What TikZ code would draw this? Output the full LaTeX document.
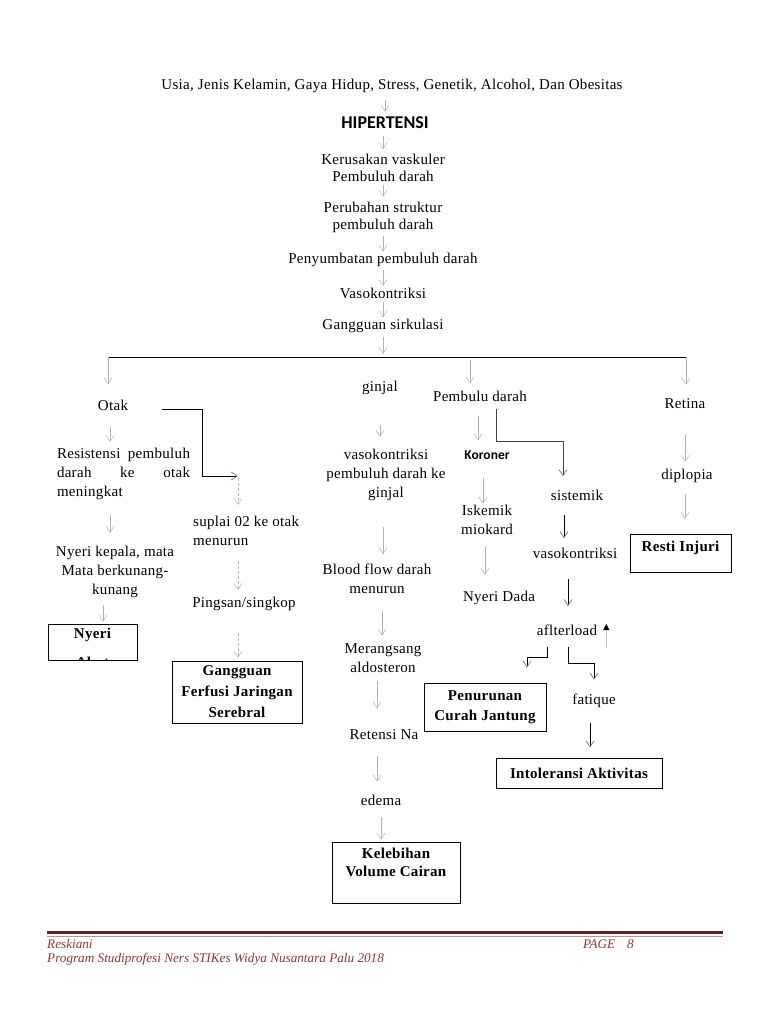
\documentclass[tikz,border=0pt]{standalone}
\usepackage{fontspec}
\setmainfont{Liberation Serif}[LetterSpace=2]
\newfontfamily\calfont{Carlito}
\newfontfamily\footfont{Liberation Serif}
\usetikzlibrary{arrows.meta,calc,positioning}
\definecolor{footred}{HTML}{943634}
\definecolor{footdark}{HTML}{622423}

\begin{document}
\begin{tikzpicture}[
    x=1pt, y=-1pt,
    txt/.style={inner sep=1pt, align=center, font=\fontsize{15}{19}\selectfont},
    box/.style={draw, line width=0.9pt, inner sep=2pt, font=\fontsize{15}{20}\selectfont\bfseries},
    arr/.style={gray!60, line width=0.5pt, -{Straight Barb[length=6pt,width=8pt]}},
    darr/.style={black, line width=0.8pt, -{Straight Barb[length=6pt,width=8pt,color=gray]}},
    dasharr/.style={arr, dash pattern=on 3pt off 2pt},
    uparr/.style={gray!45, line width=0.8pt, -{Triangle[length=6pt,width=6pt,color=black]}},
    sh/.style 2 args={shorten <=#1pt, shorten >=#2pt}
]
\fill[white] (0,0) rectangle (768,1024);
\useasboundingbox (0,0) rectangle (768,1024);

\node[txt] (cause) at (392,86) {Usia, Jenis Kelamin, Gaya Hidup, Stress, Genetik, Alcohol, Dan Obesitas};
\node[inner sep=1pt, font=\calfont\fontsize{18}{20}\selectfont\bfseries] (hip) at (385,123) {HIPERTENSI};
\node[txt, font=\fontsize{15}{17}\selectfont] (kerus) at (383,167.5) {Kerusakan vaskuler\\Pembuluh darah};
\node[txt, font=\fontsize{15}{17}\selectfont] (perub) at (383,217.5) {Perubahan struktur\\pembuluh darah};
\node[txt] (sumbat) at (383,260) {Penyumbatan pembuluh darah};
\node[txt] (vaso) at (383,293) {Vasokontriksi};
\node[txt] (sirk) at (383,326) {Gangguan sirkulasi};
\coordinate (busL) at (108,357);
\coordinate (busM) at (470,357);
\coordinate (busR) at (686,357);
\draw[line width=0.8pt] (busL) -- (busR);

\node[txt] (otak) at (113,405) {Otak};
\node[txt, align=left, text width=133pt] (resist) at (123.5,474) {Resistensi\hfill pembuluh\\darah\hfill ke\hfill otak\\meningkat};
\node[txt] (nkep) at (115,572) {Nyeri kepala, mata\\Mata berkunang-\\kunang};
\node[box, minimum width=89pt, minimum height=36pt] (nakut) at (92.5,642) {};
\begin{scope}
\clip (nakut.south west) rectangle (nakut.north east);
\node[txt, font=\fontsize{15}{20}\selectfont\bfseries, anchor=north] (akuttxt) at ([yshift=-3pt]nakut.north) {Nyeri\\[9pt]Akut};
\end{scope}
\coordinate (sj) at (238,476);
\node[txt, align=left, anchor=west] (suplai) at (192,531) {suplai 02 ke otak\\menurun};
\node[txt] (pingsan) at (244,604) {Pingsan/singkop};
\node[box, align=center, minimum width=130pt, minimum height=62pt, font=\fontsize{15}{21}\selectfont\bfseries] (gfj) at (237,692) {Gangguan\\Ferfusi Jaringan\\Serebral};

\node[txt] (ginjal) at (380,388) {ginjal};
\node[txt] (vgin) at (386,475) {vasokontriksi\\pembuluh darah ke\\ginjal};
\node[txt] (blood) at (377,579) {Blood flow darah\\menurun};
\node[txt] (aldo) at (383,658) {Merangsang\\aldosteron};
\node[txt] (retna) at (384,735) {Retensi Na};
\node[txt] (edema) at (381,800) {edema};
\node[box, minimum width=128pt, minimum height=61pt] (keleb) at (396,872.5) {};
\node[txt, font=\fontsize{15}{18}\selectfont\bfseries, anchor=north] (kelebtxt) at ([yshift=-5pt]keleb.north) {Kelebihan\\Volume Cairan};

\node[txt] (pemb) at (480,396) {Pembulu darah};
\node[inner sep=1pt, font=\calfont\fontsize{13.5}{15}\selectfont\bfseries] (koroner) at (487,455) {Koroner};
\node[txt] (iskemik) at (487,520) {Iskemik\\miokard};
\node[txt] (dada) at (499,598) {Nyeri Dada};
\node[txt] (sistemik) at (577,495) {sistemik};
\node[txt] (vsis) at (575,553) {vasokontriksi};
\node[txt] (afl) at (567,630) {aflterload};
\node[box, align=center, minimum width=122pt, minimum height=48pt] (curah) at (485,707) {Penurunan\\Curah Jantung};
\node[txt] (fatique) at (594,701) {fatique};
\node[box, minimum width=166pt, minimum height=30pt] (intol) at (579,773) {Intoleransi Aktivitas};

\node[txt] (retina) at (685,404) {Retina};
\node[txt] (diplopia) at (687,476) {diplopia};
\node[box, minimum width=101pt, text height=17pt, text depth=21pt, inner ysep=0pt, anchor=base] (resti) at (680.5,551) {Resti Injuri};

\draw[arr, sh={6.3}{4.2}] (hip |- cause.south) -- (hip);
\draw[arr, sh={6.2}{3.3}] (kerus |- hip.south) -- (kerus);
\draw[arr, sh={2.3}{4.3}] (kerus) -- (perub);
\draw[arr, sh={2.3}{0.5}] (perub) -- (sumbat);
\draw[arr, sh={2.3}{0.5}] (sumbat) -- (vaso);
\draw[arr, sh={2.3}{0.5}] (vaso) -- (sirk);
\draw[arr, sh={3.3}{3}] (sirk) -- (sirk |- busL);

\draw[arr, sh={0}{14.2}] (busL) -- (busL |- otak.north);
\draw[arr, sh={3}{6.2}] (busM) -- (busM |- pemb.north);
\draw[arr, sh={0}{13.2}] (busR) -- (busR |- retina.north);

\draw[arr, sh={15.2}{5.2}] ([xshift=-3pt]otak.south) -- ([xshift=-3pt]otak.south |- resist.north);
\draw[arr, sh={14.2}{12.2}] ([xshift=-5pt]nkep.north |- resist.south) -- ([xshift=-5pt]nkep.north);
\draw[arr, sh={6.2}{2}] ([xshift=-12pt]nkep.south) -- ([xshift=-12pt]nkep.south |- nakut.north);
\draw[darr] ([xshift=33pt,yshift=-4pt]otak.east) -- ++(40,0) |- (sj);
\draw[dasharr, sh={2}{10.2}] (sj) -- (sj |- suplai.north);
\draw[dasharr, sh={14.2}{6.2}] (sj |- suplai.south) -- (sj |- pingsan.north);
\draw[dasharr, sh={21.2}{3}] (sj |- pingsan.south) -- (sj |- gfj.north);

\draw[arr, sh={29.2}{11.2}] (ginjal) -- (ginjal |- vgin.north);
\draw[arr, sh={25.2}{8.7}] ([xshift=-3pt]vgin.south) -- ([xshift=-3pt]vgin.south |- blood.north);
\draw[arr, sh={15.7}{6.7}] ([xshift=-1pt]aldo.north |- blood.south) -- ([xshift=-1pt]aldo.north);
\draw[arr, sh={7.7}{20.2}] ([xshift=-6pt]aldo.south) -- ([xshift=-6pt]aldo.south |- retna.north);
\draw[arr, sh={15.2}{12.2}] ([xshift=-7pt]retna.south) -- ([xshift=-7pt]retna.south |- edema.north);
\draw[arr, sh={10.2}{2}] (edema) -- (edema |- keleb.north);

\draw[arr, sh={13.2}{9}] ([xshift=-2pt]pemb.south) -- ([xshift=-2pt]pemb.south |- koroner.north);
\draw[darr, black!75, shorten >=12.2pt] ([xshift=16pt,yshift=-7pt]pemb.south) -- ++(0,32) -| ([xshift=-14pt]sistemik.north);
\draw[arr, sh={17}{0.5}] ([xshift=-4pt]koroner.south) -- ([xshift=-4pt]koroner.south |- iskemik.north);
\draw[arr, sh={11.2}{15.2}] ([xshift=-2pt]iskemik.south) -- ([xshift=-2pt]iskemik.south |- dada.north);
\draw[darr, sh={13.2}{8.2}] ([xshift=-13pt]sistemik.south) -- ([xshift=-13pt]sistemik.south |- vsis.north);
\draw[darr, sh={19.2}{17.2}] ([xshift=1pt]afl.north |- vsis.south) -- ([xshift=1pt]afl.north);
\draw[uparr] ([xshift=8pt,yshift=-18pt]afl.east) -- ([xshift=8pt,yshift=6pt]afl.east);
\draw[darr, sh={10.2}{15}] ([xshift=-20pt]afl.south) -- ++(0,21.2) -| ([xshift=42pt]curah.north);
\draw[darr, sh={10.2}{13.2}] ([xshift=1pt]afl.south) -- ++(0,27.2) -| (fatique);
\draw[darr, sh={14.2}{10}] ([xshift=-4pt]fatique.south) -- ([xshift=-4pt]fatique.south |- intol.north);

\draw[arr, sh={25.2}{6.2}] (retina) -- (retina |- diplopia.north);
\draw[arr, sh={10.2}{15}] ([xshift=-2pt]diplopia.south) -- ([xshift=-2pt]diplopia.south |- resti.north);

\draw[line width=2.5pt, footdark] (47,932.5) -- (723,932.5);
\draw[line width=1.6pt, footred!55] (47,936.5) -- (723,936.5);
\node[anchor=west, inner sep=0pt, text=footred, font=\footfont\itshape\fontsize{13.2}{15}\selectfont] (author) at (47,944) {Reskiani};
\node[anchor=west, inner sep=0pt, text=footred, font=\footfont\itshape\fontsize{13.2}{15}\selectfont] (prog) at (47,959) {Program Studiprofesi Ners STIKes Widya Nusantara Palu 2018};
\node[anchor=west, inner sep=0pt, text=footred, font=\footfont\itshape\fontsize{13.2}{15}\selectfont] (page) at (583,944) {PAGE\hspace{12pt}8};
\end{tikzpicture}
\end{document}
